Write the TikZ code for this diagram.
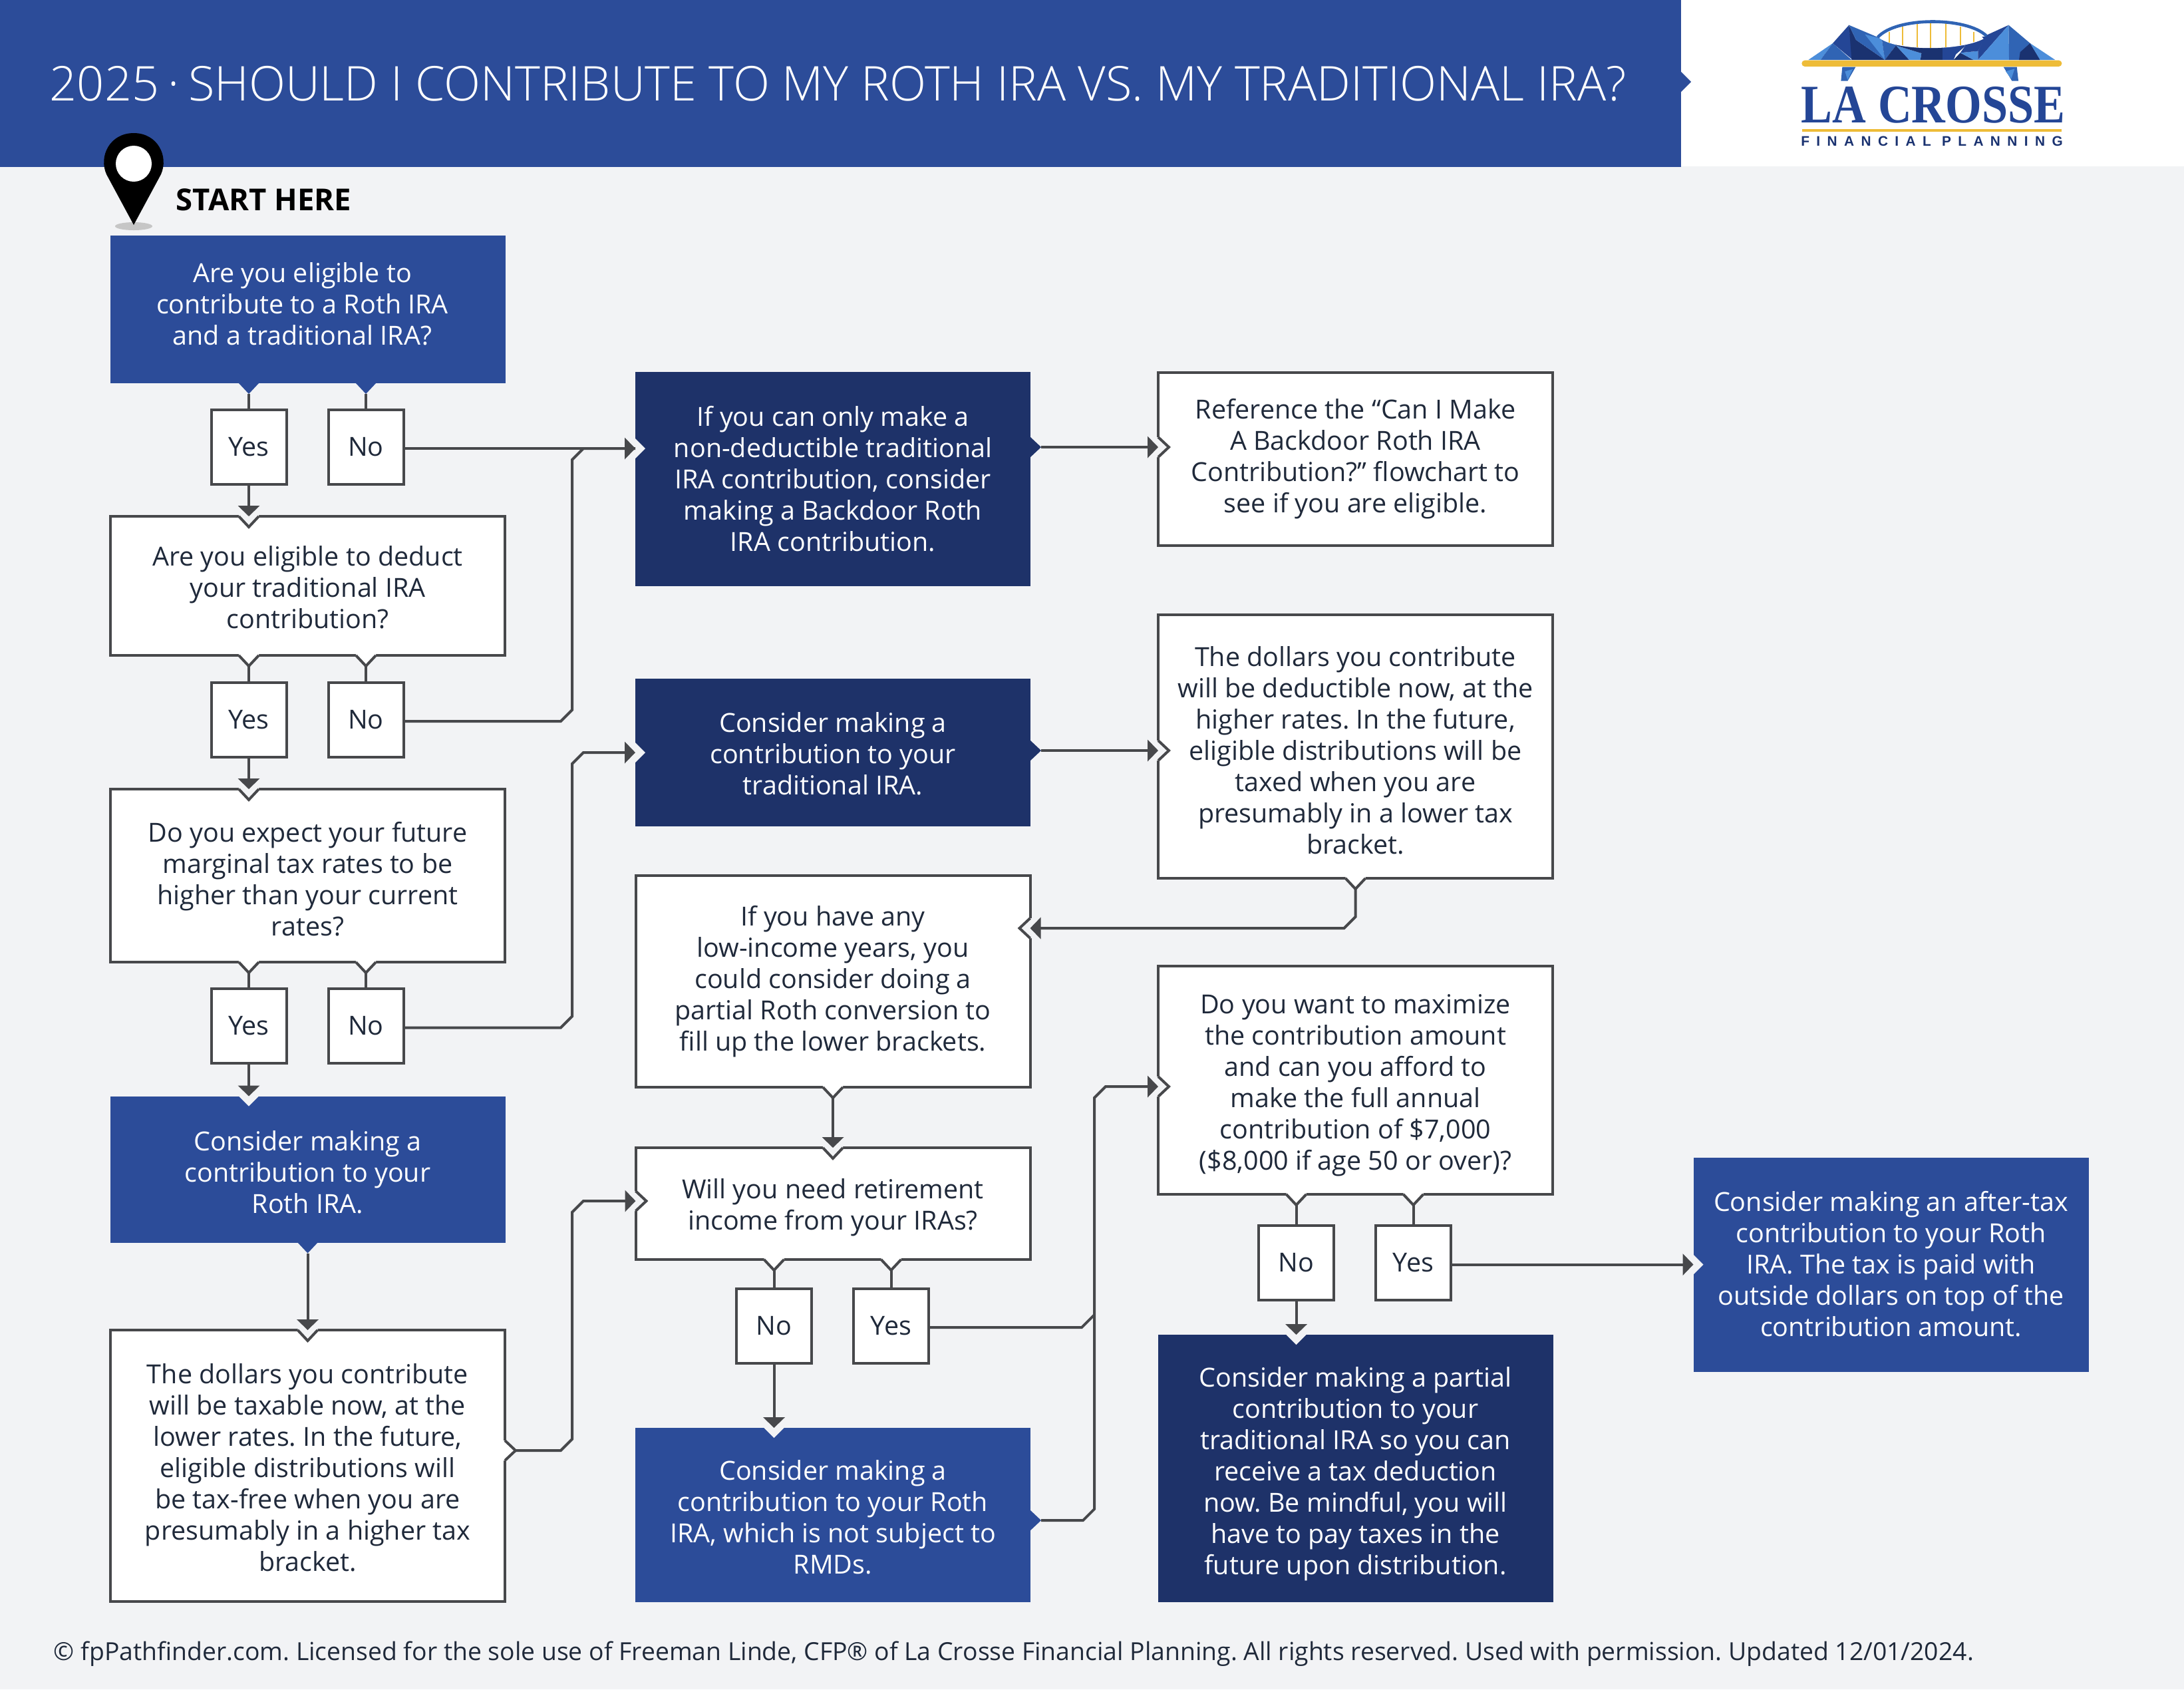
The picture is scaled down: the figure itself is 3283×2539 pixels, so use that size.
\documentclass[tikz,border=0pt]{standalone}
\usepackage{fontspec}
\setmainfont{Open Sans}
\newfontfamily\headfont{Open Sans Light}
\newfontfamily\logoserif{Liberation Serif}
\newfontfamily\logosans[LetterSpace=50]{Liberation Sans}
\usetikzlibrary{positioning}
\usetikzlibrary{calc}
\usetikzlibrary{arrows.meta}
\definecolor{pagebg}{RGB}{242,243,245}
\definecolor{diagramblue}{RGB}{44,76,153}
\definecolor{diagramnavy}{RGB}{30,50,105}
\definecolor{diagramline}{RGB}{71,72,75}
\definecolor{diagramtext}{RGB}{31,41,58}
\definecolor{logoyellow}{RGB}{238,188,56}
\definecolor{logoA}{RGB}{36,70,150}
\definecolor{logoB}{RGB}{48,100,180}
\definecolor{logoC}{RGB}{76,142,218}
\definecolor{logoD}{RGB}{26,50,112}
\newcommand{\unit}{0.24pt}
% push a text block down or up inside its box
\newcommand{\drop}[1]{\rule{0pt}{\dimexpr 7pt+#1\dimexpr 0.48pt\relax\relax}}
\newcommand{\lift}[1]{\rule[-#1\dimexpr 0.48pt\relax]{0pt}{0pt}}
\newcommand{\railup}[4][link]{%
  \draw[#1] (#2) -- ($(#2 -| #3)+(-17,0)$) -- ($(#2 -| #3)+(0,-17)$)
    -- ($(#4 -| #3)+(0,17)$) -- ($(#4 -| #3)+(17,0)$) -- (#4);}
\tikzset{
  textstyle/.style={align=center, inner sep=0pt, outer sep=0pt, font=\fontsize{9.47}{11.28}\selectfont},
  bluebox/.style={textstyle, fill=diagramblue, text=white, minimum width=594*\unit},
  navybox/.style={textstyle, fill=diagramnavy, text=white, minimum width=594*\unit},
  whitebox/.style={textstyle, draw=diagramline, line width=4*\unit, fill=white, text=diagramtext, minimum width=593*\unit},
  answer/.style={whitebox, minimum width=113*\unit, minimum height=112*\unit},
  plain/.style={draw=diagramline, line width=4*\unit, line join=miter},
  link/.style={plain, -{Triangle[width=32*\unit, length=16*\unit]}},
  tabwhite/.pic={
    \fill[white] (-3,-15) -- (0,-15) -- (16,0) -- (0,15) -- (-3,15) -- cycle;
    \draw[plain] (0,-15) -- (16,0) -- (0,15);},
  tabsolid/.pic={\path[pic actions] (0,-15) -- (16,0) -- (0,15) -- cycle;},
  notchwhite/.pic={
    \fill[pagebg] (-3,-15) -- (0,-15) -- (16,0) -- (0,15) -- (-3,15) -- cycle;
    \draw[plain] (0,-15) -- (16,0) -- (0,15);},
  notchsolid/.pic={\fill[pagebg] (0,-15) -- (15,0) -- (0,15) -- cycle;},
}
\begin{document}
\frenchspacing
\begin{tikzpicture}[x=0.24pt, y=-0.24pt]
  \useasboundingbox (0,0) rectangle (3283,2539);
  \fill[pagebg] (0,0) rectangle (3283,2539);

  % Header
  \fill[white] (2527,0) rectangle (3283,250);
  \fill[diagramblue] (0,0) rectangle (2527,251);
  \fill[diagramblue] (2527,108) -- (2542,123) -- (2527,138) -- cycle;
  \node[anchor=west, inner sep=0pt, text=white, font=\headfont\fontsize{17.27}{20}\selectfont] (title) at (74,126)
    {2025\kern-1.25pt\ ·\kern-1.25pt\ SHOULD I CONTRIBUTE TO MY ROTH IRA VS. MY TRADITIONAL IRA?};

  % Logo
  \begin{scope}[shift={(2690,20)}, x=0.08pt, y=-0.08pt]
    % left mountain
    \fill[logoC] (85,210) -- (195,135) -- (140,210) -- cycle;
    \fill[logoB] (195,135) -- (280,210) -- (140,210) -- cycle;
    \fill[logoA] (195,135) -- (268,53) -- (285,210) -- cycle;
    \fill[logoD] (268,53) -- (300,120) -- (430,210) -- (280,210) -- cycle;
    \fill[logoB] (268,53) -- (415,115) -- (430,210) -- (300,120) -- cycle;
    \fill[logoC] (340,95) -- (415,115) -- (430,210) -- cycle;
    % middle band
    \fill[logoB] (415,110) -- (490,110) -- (480,145) -- (430,210) -- cycle;
    \fill[logoD] (480,145) -- (540,210) -- (430,210) -- cycle;
    \fill[logoC] (480,145) -- (595,180) -- (590,210) -- (540,210) -- cycle;
    \fill[logoD] (480,110) -- (690,110) -- (690,210) -- (590,210) -- (595,180) -- (480,145) -- cycle;
    \fill[logoA] (690,110) -- (790,110) -- (790,150) -- (750,185) -- (740,210) -- (690,210) -- cycle;
    \fill[logoD] (740,210) -- (770,178) -- (830,210) -- cycle;
    \fill[logoC] (770,178) -- (850,170) -- (850,210) -- (830,210) -- cycle;
    \fill[logoA] (790,110) -- (885,105) -- (850,170) -- (770,178) -- (790,150) -- cycle;
    % right mountain
    \fill[logoA] (850,170) -- (885,100) -- (988,53) -- (850,210) -- cycle;
    \fill[logoC] (850,210) -- (988,53) -- (990,210) -- cycle;
    \fill[logoB] (988,53) -- (1085,135) -- (1130,210) -- (990,210) -- cycle;
    \fill[logoD] (1085,135) -- (1130,210) -- (1035,210) -- (1040,175) -- cycle;
    \fill[logoC] (1085,135) -- (1198,210) -- (1130,210) -- cycle;
    % bridge
    \fill[white] (415,118) .. controls (500,170) and (770,170) .. (875,115) .. controls (800,15) and (480,15) .. (400,108) -- cycle;
    \foreach \hx/\htop/\hbot in {450/85/132, 510/60/145, 575/45/153, 637/38/156, 705/45/153, 772/60/145, 830/85/128}
      \draw[logoyellow, line width=0.5pt] (\hx,\htop) -- (\hx,\hbot);
    \draw[logoB, line width=1.1pt] (398,108) .. controls (480,15) and (800,15) .. (888,102);
    \fill[logoB] (238,242) -- (298,242) -- (262,305) -- (232,305) -- cycle;
    \fill[logoC] (250,262) -- (285,252) -- (262,300) -- cycle;
    \fill[logoB] (965,242) -- (1025,242) -- (1032,305) -- (1003,305) -- cycle;
    \fill[logoC] (975,262) -- (1015,250) -- (1000,295) -- cycle;
    \fill[logoyellow, rounded corners=1.1pt] (55,212) rectangle (1228,240);
  \end{scope}
  \fill[logoyellow] (2709,194) rectangle (3099,198);
  \node[inner sep=0pt, text=logoA, font=\logoserif\bfseries\fontsize{19.6}{20}\selectfont] (logoname) at (2906,158) {\scalebox{.86}[1]{LA CROSSE}};
  \node[inner sep=0pt, text=logoD, font=\logosans\bfseries\fontsize{5}{6}\selectfont] (logosub) at (2904,212.5) {FINANCIAL PLANNING};

  % Start marker
  \fill[gray!45] (201,340) ellipse [x radius=28, y radius=6];
  \fill[black] (201,338) -- (160,262) .. controls (148,235) and (165,200) .. (201,200)
    .. controls (237,200) and (254,235) .. (242,262) -- cycle;
  \fill[white] (201,246) ellipse [x radius=27, y radius=27];
  \node[anchor=west, inner sep=0pt, text=black, font=\bfseries\fontsize{10.9}{12}\selectfont] (start) at (264,300) {START HERE};

  % Left column
  \node[bluebox, minimum height=222*\unit] (q1) at (462.5,465) {%
    \begin{tabular}{@{}c@{\hspace{3.84pt}}}
      Are you eligible to \\
      contribute to a Roth IRA \\
      and a traditional IRA?\lift{10} \\
    \end{tabular}%
  };
  \node[answer] (yes1) at (374,671.5) {Yes};
  \node[answer] (no1) at (550,671.5) {No};
  \node[whitebox, minimum height=209*\unit] (q2) at (462.5,880.5) {\drop{3}Are you eligible to deduct\\your traditional IRA\\contribution?};
  \node[answer] (yes2) at (374,1081.5) {Yes};
  \node[answer] (no2) at (550,1081.5) {No};
  \node[whitebox, minimum height=260*\unit] (q3) at (462.5,1316) {\drop{6}Do you expect your future\\marginal tax rates to be\\higher than your current\\rates?};
  \node[answer] (yes3) at (374,1542) {Yes};
  \node[answer] (no3) at (550,1542) {No};
  \node[bluebox, minimum height=220*\unit] (roth) at (462.5,1757.5) {\drop{5}Consider making a\\contribution to your\\Roth IRA.};
  \node[whitebox, minimum height=408*\unit] (taxable) at (462.5,2203) {\drop{3}The dollars you contribute\\will be taxable now, at the\\lower rates. In the future,\\eligible distributions will\\be tax-free when you are\\presumably in a higher tax\\bracket.};

  % Middle column
  \node[navybox, minimum height=322*\unit] (backdoor) at (1252,720) {If you can only make a\\non-deductible traditional\\IRA contribution, consider\\making a Backdoor Roth\\IRA contribution.};
  \node[navybox, minimum height=222*\unit] (trad) at (1252,1131) {\drop{2}Consider making a\\contribution to your\\traditional IRA.};
  \node[whitebox, minimum height=318*\unit] (low) at (1252,1475) {If you have any\\low-income years, you\\could consider doing a\\partial Roth conversion to\\fill up the lower brackets.};
  \node[whitebox, minimum height=168*\unit] (retire) at (1252,1809) {\drop{6}Will you need retirement\\income from your IRAs?};
  \node[answer] (no5) at (1163.5,1992.5) {No};
  \node[answer] (yes5) at (1339.5,1992.5) {Yes};
  \node[bluebox, minimum height=262*\unit] (rmd) at (1252,2277) {\drop{4}Consider making a\\contribution to your Roth\\IRA, which is not subject to\\RMDs.};

  % Right column
  \node[whitebox, minimum height=260*\unit] (ref) at (2037.5,690) {Reference the “Can I Make\\A Backdoor Roth IRA\\Contribution?” flowchart to\\see if you are eligible.};
  \node[whitebox, minimum height=396*\unit] (deduct) at (2037.5,1122) {\drop{6}The dollars you contribute\\will be deductible now, at the\\higher rates. In the future,\\eligible distributions will be\\taxed when you are\\presumably in a lower tax\\bracket.};
  \node[whitebox, minimum height=343*\unit] (maxout) at (2037.5,1623.5) {\drop{8}Do you want to maximize\\the contribution amount\\and can you afford to\\make the full annual\\contribution of \$7,000\\(\$8,000 if age 50 or over)?};
  \node[answer] (no4) at (1948.5,1898) {No};
  \node[answer] (yes4) at (2124.5,1898) {Yes};
  \node[navybox, minimum height=402*\unit] (partial) at (2037.5,2207) {\drop{9}Consider making a partial\\contribution to your\\traditional IRA so you can\\receive a tax deduction\\now. Be mindful, you will\\have to pay taxes in the\\future upon distribution.};
  \node[bluebox, minimum height=322*\unit] (after) at (2842.5,1901) {Consider making an after-tax\\contribution to your Roth\\IRA. The tax is paid with\\outside dollars on top of the\\contribution amount.\lift{2}};

  % Footer
  \node[anchor=west, inner sep=0pt, text=diagramtext, font=\fontsize{8.96}{11}\selectfont] (footer) at (80,2486)
    {© fpPathfinder.com. Licensed for the sole use of Freeman Linde, CFP® of La Crosse Financial Planning. All rights reserved. Used with permission. Updated 12/01/2024.};

  % Named points on the box sides
  \coordinate (railA) at (860,0);
  \coordinate (railB) at (1645,0);
  \coordinate (backdoorIn) at (955,674);
  \coordinate (backdoorOut) at (1549,672);
  \coordinate (no2Out) at ($(no2.east)+(0,2.5)$);
  \coordinate (no3Out) at ($(no3.east)+(0,2.5)$);
  \coordinate (yes4Out) at ($(yes4.east)+(0,2.5)$);
  \coordinate (yes5Out) at ($(yes5.east)+(0,2.5)$);
  \coordinate (tradOut) at ($(trad.east)+(0,-3)$);
  \coordinate (taxableOut) at (759,2180);
  \coordinate (taxableTip) at (775,2180);
  \coordinate (retireIn) at (955.5,1805);
  \coordinate (lowIn) at (1548.5,1395);
  \coordinate (rmdOut) at (1549,2285);
  \coordinate (rmdTip) at (1565,2285);
  \coordinate (maxIn) at (1741,1633);

  % Tabs and notches
  \foreach \pt in {q1.south -| yes1, q1.south -| no1}
    \pic[rotate=-90, fill=diagramblue] at (\pt) {tabsolid};
  \pic[rotate=-90, fill=diagramblue] at (roth.south) {tabsolid};
  \pic[fill=diagramnavy] at (backdoorOut) {tabsolid};
  \pic[fill=diagramnavy] at (tradOut) {tabsolid};
  \pic[fill=diagramblue] at (rmdOut) {tabsolid};
  \foreach \pt in {q2.south -| yes2, q2.south -| no2, q3.south -| yes3, q3.south -| no3, deduct.south, low.south, retire.south -| no5, retire.south -| yes5, maxout.south -| no4, maxout.south -| yes4}
    \pic[rotate=-90] at (\pt) {tabwhite};
  \pic at (taxableOut) {tabwhite};
  \foreach \pt/\ang in {q2.north -| yes1/-90, q3.north -| yes2/-90, taxable.north/-90, retire.north/-90, retireIn/0, ref.west |- backdoorOut/0, deduct.west |- tradOut/0, maxIn/0, lowIn/180}
    \pic[rotate=\ang] at (\pt) {notchwhite};
  \foreach \pt/\ang in {roth.north -| yes3/-90, rmd.north -| no5/-90, partial.north -| no4/-90, backdoorIn/0, trad.west/0, after.west |- yes4Out/0}
    \pic[rotate=\ang] at (\pt) {notchsolid};

  % Left column links
  \draw[plain] ($(q1.south -| yes1)+(0,16)$) -- (yes1);
  \draw[plain] ($(q1.south -| no1)+(0,16)$) -- (no1);
  \draw[link] (yes1) -- (q2.north -| yes1);
  \draw[plain] ($(q2.south -| yes2)+(0,16)$) -- (yes2);
  \draw[plain] ($(q2.south -| no2)+(0,16)$) -- (no2);
  \draw[link] (yes2) -- (q3.north -| yes2);
  \draw[plain] ($(q3.south -| yes3)+(0,16)$) -- (yes3);
  \draw[plain] ($(q3.south -| no3)+(0,16)$) -- (no3);
  \draw[link] (yes3) -- (roth.north -| yes3);
  \draw[link] ($(roth.south)+(0,16)$) -- (taxable.north);

  % Links to the middle column
  \draw[link] (no1.east |- backdoorIn) -- (backdoorIn);
  \railup[plain]{no2Out}{railA}{backdoorIn}
  \railup{no3Out}{railA}{trad.west}
  \railup{taxableTip}{railA}{retireIn}

  % Middle column links
  \draw[link] ($(low.south)+(0,16)$) -- (retire.north);
  \draw[plain] ($(retire.south -| no5)+(0,16)$) -- (no5);
  \draw[plain] ($(retire.south -| yes5)+(0,16)$) -- (yes5);
  \draw[link] (no5) -- (rmd.north -| no5);

  % Links to the right column
  \draw[link] ($(backdoorOut)+(16,0)$) -- (ref.west |- backdoorOut);
  \draw[link] ($(tradOut)+(16,0)$) -- (deduct.west |- tradOut);
  \draw[link] ($(deduct.south)+(0,16)$) -- ($(lowIn -| deduct.south)+(0,-17)$) -- ($(lowIn -| deduct.south)+(-17,0)$) -- (lowIn);
  \railup{rmdTip}{railB}{maxIn}
  \draw[plain] (yes5Out) -- ($(yes5Out -| railB)+(-19,0)$) -- ($(yes5Out -| railB)+(0,-19)$);

  % Right column links
  \draw[plain] ($(maxout.south -| no4)+(0,16)$) -- (no4);
  \draw[plain] ($(maxout.south -| yes4)+(0,16)$) -- (yes4);
  \draw[link] (no4) -- (partial.north -| no4);
  \draw[link] (yes4Out) -- (after.west |- yes4Out);
\end{tikzpicture}
\end{document}
